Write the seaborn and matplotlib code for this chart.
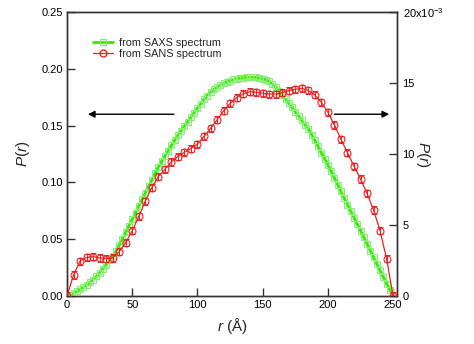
import numpy as np
import pandas as pd
import matplotlib
matplotlib.use("Agg")
import matplotlib.pyplot as plt
import seaborn as sns
from matplotlib.lines import Line2D

# ---------------- data ----------------
r_saxs = [i * 2.5 for i in range(101)]
p_saxs = [0.0, 0.0013, 0.0027, 0.0043, 0.0060, 0.0079, 0.0099, 0.0121, 0.0145, 0.0172,
          0.0203, 0.0240, 0.0277, 0.0313, 0.0350, 0.0392, 0.0446, 0.0505, 0.0562, 0.0620,
          0.0677, 0.0735, 0.0793, 0.0850, 0.0908, 0.0965, 0.1022, 0.1080, 0.1135, 0.1185,
          0.1232, 0.1278, 0.1325, 0.1372, 0.1415, 0.1455, 0.1495, 0.1535, 0.1575, 0.1615,
          0.1652, 0.1690, 0.1730, 0.1765, 0.1795, 0.1820, 0.1840, 0.1858, 0.1873, 0.1886,
          0.1897, 0.1906, 0.1913, 0.1919, 0.1923, 0.1925, 0.1926, 0.1926, 0.1924, 0.1920,
          0.1913, 0.1905, 0.1890, 0.1865, 0.1837, 0.1805, 0.1770, 0.1733, 0.1697, 0.1660,
          0.1622, 0.1585, 0.1545, 0.1508, 0.1470, 0.1420, 0.1370, 0.1317, 0.1260, 0.1208,
          0.1155, 0.1098, 0.1040, 0.0980, 0.0920, 0.0862, 0.0805, 0.0748, 0.0690, 0.0633,
          0.0575, 0.0518, 0.0460, 0.0400, 0.0340, 0.0283, 0.0225, 0.0168, 0.0110, 0.0055,
          0.0]

r_sans = [i * 5 for i in range(51)]
p_sans = [0.0, 1.48, 2.46, 2.72, 2.77, 2.68, 2.63, 2.68, 3.12, 3.76,
          4.60, 5.60, 6.68, 7.64, 8.40, 8.92, 9.44, 9.82, 10.12, 10.38,
          10.70, 11.24, 11.80, 12.40, 13.04, 13.56, 13.96, 14.24, 14.38, 14.36,
          14.28, 14.22, 14.22, 14.32, 14.46, 14.56, 14.62, 14.48, 14.16, 13.64,
          12.94, 12.04, 11.04, 10.08, 9.15, 8.24, 7.23, 6.06, 4.60, 2.62,
          0.0]  # units of 1e-3

x_ticks = [0, 50, 100, 150, 200, 250]
left_ticks = [0.00, 0.05, 0.10, 0.15, 0.20, 0.25]
left_labels = ["0.00", "0.05", "0.10", "0.15", "0.20", "0.25"]
right_ticks = [0, 5, 10, 15, 20]
right_labels = ["0", "5", "10", "15", "20x10$^{-3}$"]

# ---------------- style ----------------
sns.set_theme(style="ticks")
plt.rcParams["font.family"] = ["Liberation Sans", "DejaVu Sans"]
plt.rcParams["mathtext.fontset"] = "custom"
plt.rcParams["mathtext.rm"] = "Liberation Sans"
plt.rcParams["mathtext.it"] = "Liberation Sans:italic"
plt.rcParams["axes.edgecolor"] = "#333333"
plt.rcParams["axes.linewidth"] = 1.0

green = "#33ee00"
green_m = "#88ee77"
red = "#ee2020"

fig = plt.figure(figsize=(4.74, 3.44), dpi=100)
ax = fig.add_axes([0.1414, 0.1395, 0.8376 - 0.1414, 0.9651 - 0.1395])
ax2 = ax.twinx()

df_saxs = pd.DataFrame({"r": r_saxs, "P": p_saxs})
df_sans = pd.DataFrame({"r": r_sans, "P": p_sans})

# SAXS on left axis
ax.errorbar(df_saxs["r"], df_saxs["P"], yerr=0.0012, fmt="none", ecolor=green_m,
            elinewidth=0.6, capsize=1.5, capthick=0.6, zorder=2)
sns.lineplot(data=df_saxs, x="r", y="P", ax=ax, color=green, lw=2.0,
             marker="s", markersize=4.5, markerfacecolor="none",
             markeredgecolor=green_m, markeredgewidth=0.8, zorder=3,
             label="from SAXS spectrum", legend=False)

# SANS on right axis
ax2.errorbar(df_sans["r"], df_sans["P"], yerr=0.25, fmt="none", ecolor=red,
             elinewidth=0.7, capsize=2.0, capthick=0.7, zorder=2)
sns.lineplot(data=df_sans, x="r", y="P", ax=ax2, color=red, lw=0.9,
             marker="o", markersize=5, markerfacecolor="none",
             markeredgecolor=red, markeredgewidth=0.8, zorder=3,
             label="from SANS spectrum", legend=False)

ax.set_xlim(0, 253)
ax.set_ylim(0, 0.25)
ax2.set_ylim(0, 20)

ax.set_xticks(x_ticks)
ax.set_xticklabels([str(t) for t in x_ticks])
ax.set_yticks(left_ticks)
ax.set_yticklabels(left_labels)
ax2.set_yticks(right_ticks)
ax2.set_yticklabels(right_labels)

ax.tick_params(axis="both", direction="in", length=6, width=1, labelsize=8,
               colors="#333333", labelcolor="black", top=False, right=False, pad=3)
ax2.tick_params(axis="y", direction="in", length=6, width=1, labelsize=8,
                colors="#333333", labelcolor="black", pad=4)

ax.set_xlabel("$\\mathit{r}$ (Å)", fontsize=11, labelpad=4)
ax.set_ylabel("$\\mathit{P}$($\\mathit{r}$)", fontsize=11)
ax.yaxis.set_label_coords(-0.105, 0.5)
ax2.set_ylabel("$\\mathit{P}$($\\mathit{r}$)", fontsize=11, rotation=-90,
               va="center", ha="center")
ax2.yaxis.set_label_coords(1.08, 0.5)

for s in ["top", "right", "left", "bottom"]:
    ax.spines[s].set_visible(True)
    ax2.spines[s].set_visible(True)

# arrows
ax.annotate("", xy=(16, 0.16), xytext=(82, 0.16),
            arrowprops=dict(arrowstyle="-|>", color="black", lw=1.0, mutation_scale=10,
                            shrinkA=0, shrinkB=0))
ax2.annotate("", xy=(247, 12.8), xytext=(205, 12.8),
             arrowprops=dict(arrowstyle="-|>", color="black", lw=1.0, mutation_scale=10,
                             shrinkA=0, shrinkB=0))

# legend
h1 = Line2D([], [], color=green, lw=2.0, marker="s", markersize=5,
            markerfacecolor="none", markeredgecolor=green_m)
h2 = Line2D([], [], color=red, lw=0.9, marker="o", markersize=5,
            markerfacecolor="none", markeredgecolor=red)
ax2.legend([h1, h2], ["from SAXS spectrum", "from SANS spectrum"], loc="upper left",
           bbox_to_anchor=(0.065, 0.925), frameon=False, fontsize=7.8, handlelength=1.9,
           handletextpad=0.5, labelspacing=0.15, borderaxespad=0)

fig.savefig("out.png", dpi=100)
